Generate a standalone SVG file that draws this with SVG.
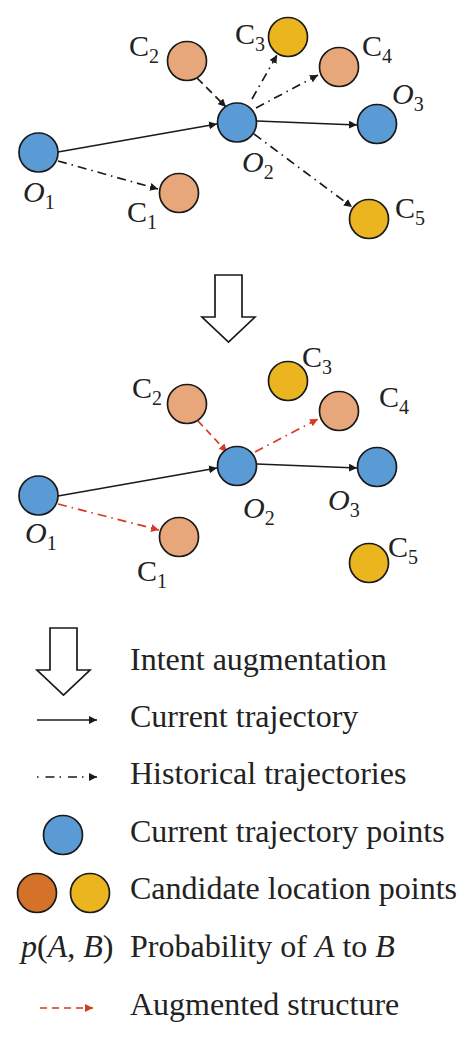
<svg xmlns="http://www.w3.org/2000/svg" width="474" height="1041" viewBox="0 0 474 1041">
<style>
.o{fill:#5B9BD5;stroke:#1a1a1a;stroke-width:1.7}
.c{fill:#E8A77B;stroke:#1a1a1a;stroke-width:1.7}
.y{fill:#EBB520;stroke:#1a1a1a;stroke-width:1.7}
.d{fill:#D4722A;stroke:#1a1a1a;stroke-width:1.7}
.lbl{font-family:"Liberation Serif",serif;font-size:30px;fill:#222}
.sub{font-size:20px;font-style:normal}
.it{font-style:italic}
.leg{font-family:"Liberation Serif",serif;font-size:32px;fill:#222}
.solid{stroke:#1a1a1a;stroke-width:1.7;fill:none;marker-end:url(#ab)}
.dd{stroke:#1a1a1a;stroke-width:1.7;fill:none;stroke-dasharray:9 5 1.5 5;marker-end:url(#ab)}
.dash{stroke:#1a1a1a;stroke-width:1.7;fill:none;stroke-dasharray:8 5;marker-end:url(#ab)}
.rdd{stroke:#D63A22;stroke-width:1.7;fill:none;stroke-dasharray:9 5 1.5 5;marker-end:url(#ar)}
.rdash{stroke:#D63A22;stroke-width:1.7;fill:none;stroke-dasharray:7 5;marker-end:url(#ar)}
.big{fill:#fff;stroke:#1a1a1a;stroke-width:1.7}
</style>
<defs>
<marker id="ab" markerUnits="userSpaceOnUse" markerWidth="10" markerHeight="8" refX="8" refY="4" orient="auto">
<path d="M0,0 L8,4 L0,8 z" fill="#1a1a1a"/>
</marker>
<marker id="ar" markerUnits="userSpaceOnUse" markerWidth="10" markerHeight="8" refX="8" refY="4" orient="auto">
<path d="M0,0 L8,4 L0,8 z" fill="#D63A22"/>
</marker>
</defs>
<rect width="474" height="1041" fill="#fff"/>

<!-- Panel 1 connectors -->
<g id="connectors-top">
<line class="solid" x1="58" y1="152" x2="217" y2="124"/>
<line class="solid" x1="257" y1="121" x2="357" y2="125"/>
<line class="dd" x1="58" y1="161" x2="158" y2="189"/>
<line class="dash" x1="197" y1="78" x2="226" y2="107"/>
<line class="dd" x1="252" y1="99" x2="277" y2="55"/>
<line class="dd" x1="256" y1="108" x2="318" y2="75"/>
<line class="dd" x1="254" y1="134" x2="352" y2="207"/>
</g>

<!-- Panel 1 nodes -->
<g id="top-O1"><circle class="o" cx="38.5" cy="152.5" r="19.5"/><text class="lbl it" x="23" y="202">O<tspan class="sub" dy="7">1</tspan></text></g>
<g id="top-O2"><circle class="o" cx="237" cy="122.5" r="19.5"/><text class="lbl it" x="242" y="172">O<tspan class="sub" dy="7">2</tspan></text></g>
<g id="top-O3"><circle class="o" cx="377" cy="124" r="19.5"/><text class="lbl it" x="392" y="104">O<tspan class="sub" dy="7">3</tspan></text></g>
<g id="top-C1"><circle class="c" cx="179" cy="193" r="19.5"/><text class="lbl" x="127" y="222">C<tspan class="sub" dy="7">1</tspan></text></g>
<g id="top-C2"><circle class="c" cx="187" cy="61" r="19.5"/><text class="lbl" x="129" y="56">C<tspan class="sub" dy="7">2</tspan></text></g>
<g id="top-C3"><circle class="y" cx="288" cy="37" r="19.5"/><text class="lbl" x="235" y="44">C<tspan class="sub" dy="7">3</tspan></text></g>
<g id="top-C4"><circle class="c" cx="339" cy="67" r="19.5"/><text class="lbl" x="362" y="56">C<tspan class="sub" dy="7">4</tspan></text></g>
<g id="top-C5"><circle class="y" cx="369" cy="219" r="19.5"/><text class="lbl" x="395" y="218">C<tspan class="sub" dy="7">5</tspan></text></g>

<!-- Transition arrow -->
<g id="transition-arrow"><path class="big" d="M215,275 H242 V317 H255 L228.5,342 L202,317 H215 Z"/></g>

<!-- Panel 2 connectors -->
<g id="connectors-bottom">
<line class="solid" x1="58" y1="496" x2="217" y2="468"/>
<line class="solid" x1="257" y1="464" x2="357" y2="468"/>
<line class="rdd" x1="58" y1="504" x2="159" y2="530"/>
<line class="rdash" x1="198" y1="421" x2="227" y2="452"/>
<line class="rdd" x1="255" y1="452" x2="318" y2="419"/>
</g>

<!-- Panel 2 nodes -->
<g id="bot-O1"><circle class="o" cx="38.5" cy="495.5" r="19.5"/><text class="lbl it" x="25" y="543">O<tspan class="sub" dy="7">1</tspan></text></g>
<g id="bot-O2"><circle class="o" cx="237" cy="466" r="19.5"/><text class="lbl it" x="243" y="518">O<tspan class="sub" dy="7">2</tspan></text></g>
<g id="bot-O3"><circle class="o" cx="377" cy="467" r="19.5"/><text class="lbl it" x="328" y="510">O<tspan class="sub" dy="7">3</tspan></text></g>
<g id="bot-C1"><circle class="c" cx="179" cy="537" r="19.5"/><text class="lbl" x="137" y="581">C<tspan class="sub" dy="7">1</tspan></text></g>
<g id="bot-C2"><circle class="c" cx="187" cy="404" r="19.5"/><text class="lbl" x="132" y="398">C<tspan class="sub" dy="7">2</tspan></text></g>
<g id="bot-C3"><circle class="y" cx="288" cy="381" r="19.5"/><text class="lbl" x="302" y="367">C<tspan class="sub" dy="7">3</tspan></text></g>
<g id="bot-C4"><circle class="c" cx="339" cy="411" r="19.5"/><text class="lbl" x="379" y="407">C<tspan class="sub" dy="7">4</tspan></text></g>
<g id="bot-C5"><circle class="y" cx="369" cy="563" r="19.5"/><text class="lbl" x="388" y="557">C<tspan class="sub" dy="7">5</tspan></text></g>

<!-- Legend -->
<g id="legend">
<path class="big" d="M50,628 H77 V670 H90 L63.5,695 L37,670 H50 Z"/>
<text class="leg" x="130" y="670">Intent augmentation</text>
<line class="solid" x1="37" y1="720" x2="97" y2="720"/>
<text class="leg" x="130" y="727">Current trajectory</text>
<line class="dd" x1="37" y1="777" x2="97" y2="777" style="stroke-dasharray:1.5 7 9 5"/>
<text class="leg" x="130" y="784">Historical trajectories</text>
<circle class="o" cx="63" cy="835" r="19.5"/>
<text class="leg" x="130" y="842">Current trajectory points</text>
<circle class="d" cx="37" cy="893" r="19.5"/>
<circle class="y" cx="90" cy="893" r="19.5"/>
<text class="leg" x="130" y="899">Candidate location points</text>
<text class="leg" x="21" y="957"><tspan class="it">p</tspan>(<tspan class="it">A</tspan>, <tspan class="it">B</tspan>)</text>
<text class="leg" x="130" y="957">Probability of <tspan class="it">A</tspan> to <tspan class="it">B</tspan></text>
<line class="rdash" x1="40" y1="1008" x2="93" y2="1008"/>
<text class="leg" x="130" y="1015">Augmented structure</text>
</g>
</svg>
